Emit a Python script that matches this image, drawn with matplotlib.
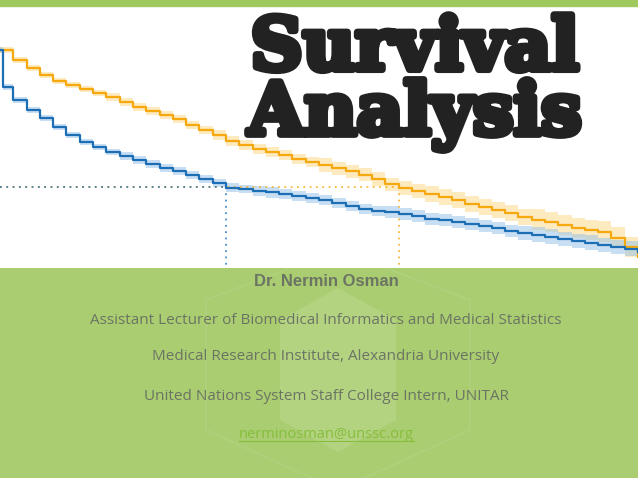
import matplotlib
matplotlib.use("Agg")
import matplotlib.pyplot as plt
import matplotlib.patheffects as pe
from matplotlib.patches import Polygon
import numpy as np

# step times (months) and Kaplan-Meier survival
t_orange = [0, 0.75, 1.5, 2.25, 3, 3.75, 4.5, 5.25, 6, 6.75, 7.5, 8.25, 9, 9.75,
            10.5, 11.25, 12, 12.75, 13.5, 14.25, 15, 15.75, 16.5, 17.25, 18,
            18.75, 19.5, 20.25, 21, 21.75, 22.5, 23.25, 24, 24.75, 25.5, 26.25,
            27, 27.75, 28.5, 29.25, 30, 30.75, 31.5, 32.25, 33, 33.75, 34.5,
            35.25, 36]
s_orange = [1.000, 0.964, 0.934, 0.909, 0.887, 0.872, 0.858, 0.843, 0.828, 0.810,
            0.792, 0.777, 0.763, 0.748, 0.726, 0.708, 0.690, 0.668, 0.653, 0.639,
            0.628, 0.617, 0.602, 0.591, 0.580, 0.569, 0.558, 0.544, 0.529, 0.510,
            0.496, 0.485, 0.474, 0.464, 0.453, 0.438, 0.427, 0.416, 0.405, 0.391,
            0.380, 0.372, 0.361, 0.350, 0.343, 0.336, 0.314, 0.281, 0.245]
ci_orange = [0.012] * 8 + [0.015] * 8 + [0.019] * 8 + [0.024] * 8 + [0.030] * 8 + [0.038] * 9

t_blue = [0, 0.15, 0.75, 1.5, 2.25, 3, 3.75, 4.5, 5.25, 6, 6.75, 7.5, 8.25, 9,
          9.75, 10.5, 11.25, 12, 12.75, 13.5, 14.25, 15, 15.75, 16.5, 17.25, 18,
          18.75, 19.5, 20.25, 21, 21.75, 22.5, 23.25, 24, 24.75, 25.5, 26.25, 27,
          27.75, 28.5, 29.25, 30, 30.75, 31.5, 32.25, 33, 33.75, 34.5, 35.25, 36]
s_blue = [1.000, 0.865, 0.818, 0.781, 0.752, 0.719, 0.690, 0.664, 0.646, 0.628,
          0.613, 0.599, 0.584, 0.569, 0.558, 0.544, 0.530, 0.514, 0.498, 0.492,
          0.486, 0.480, 0.474, 0.467, 0.460, 0.453, 0.442, 0.431, 0.420, 0.412,
          0.409, 0.401, 0.394, 0.383, 0.380, 0.372, 0.365, 0.358, 0.350, 0.339,
          0.332, 0.325, 0.318, 0.310, 0.303, 0.296, 0.288, 0.281, 0.274, 0.263]
ci_blue = [0.012] * 10 + [0.015] * 10 + [0.019] * 10 + [0.023] * 10 + [0.027] * 10

orange = "#f5a90f"
blue = "#1c6fb5"
green = "#a9cd70"
grey = "#6c7464"

fig = plt.figure(figsize=(6.38, 4.78), dpi=100, facecolor=green)

# faint hexagon in the lower green part
bg = fig.add_axes([0, 0, 1, 1])
bg.set_xlim(0, 638)
bg.set_ylim(478, 0)
bg.axis("off")
bg.add_patch(Polygon([(338, 288), (396, 320), (396, 420), (338, 452), (280, 420), (280, 320)],
                     closed=True, facecolor="white", alpha=0.12, edgecolor="none"))
bg.add_patch(Polygon([(338, 250), (470, 300), (470, 430), (338, 490), (206, 430), (206, 300)],
                     closed=True, facecolor="none", alpha=0.07, edgecolor="white", lw=1.5))

ax = fig.add_axes([0, 210 / 478, 1, 262 / 478])
ax.set_facecolor("white")
ax.set_xlim(0, 36)
ax.set_ylim(0.204, 1.161)
for sp in ax.spines.values():
    sp.set_visible(False)
ax.set_xticks([])
ax.set_yticks([])

for t, s, ci, col, band in [(t_orange, s_orange, ci_orange, orange, "#fcd98a"),
                            (t_blue, s_blue, ci_blue, blue, "#9cc4e8")]:
    t = np.array(t)
    s = np.array(s)
    ci = np.array(ci)
    ax.fill_between(t, s - ci, s + ci, step="post", color=band, alpha=0.55, lw=0)
    ax.step(t, s, where="post", color=col, lw=1.6)
    med = t[np.argmax(s <= 0.5)]
    ax.plot([0, med], [0.5, 0.5], ls=(0, (1, 2.5)), color=col, lw=1.3, alpha=0.8)
    ax.plot([med, med], [0.5, 0.0], ls=(0, (1, 2.5)), color=col, lw=1.3, alpha=0.8)

# green strip at the top of the slide
fig.patches.append(plt.Rectangle((0, 1 - 6 / 478), 1, 6 / 478, transform=fig.transFigure,
                                 color="#9fc85e", zorder=5))

stroke = [pe.withStroke(linewidth=5, foreground="#222222")]
fig.text(415 / 638, 1 - 82 / 478, "Survival\nAnalysis", ha="center", va="center",
         multialignment="center", linespacing=0.89,
         fontsize=52, family="DejaVu Serif", weight="bold", color="#222222",
         path_effects=stroke)

fig.text(326 / 638, 1 - 282 / 478, "Dr. Nermin Osman", ha="center", va="center",
         fontsize=12, family="Liberation Sans", weight="bold", color=grey)
lines = ["Assistant Lecturer of Biomedical Informatics and Medical Statistics",
         "Medical Research Institute, Alexandria University",
         "United Nations System Staff College Intern, UNITAR"]
ys = [320, 357, 396]
for txt, y in zip(lines, ys):
    fig.text(326 / 638, 1 - y / 478, txt, ha="center", va="center",
             fontsize=11, family="Open Sans", color=grey)

em = fig.text(326 / 638, 1 - 434 / 478, "nerminosman@unssc.org", ha="center", va="center",
              fontsize=10.5, family="Open Sans", color="#86be3c")
fig.canvas.draw()
bb = em.get_window_extent()
fig.add_artist(plt.Line2D([bb.x0 / 638, bb.x1 / 638], [(bb.y0 + 1) / 478] * 2,
                          transform=fig.transFigure, color="#86be3c", lw=0.8))

fig.savefig("out.png", dpi=100, facecolor=green)
